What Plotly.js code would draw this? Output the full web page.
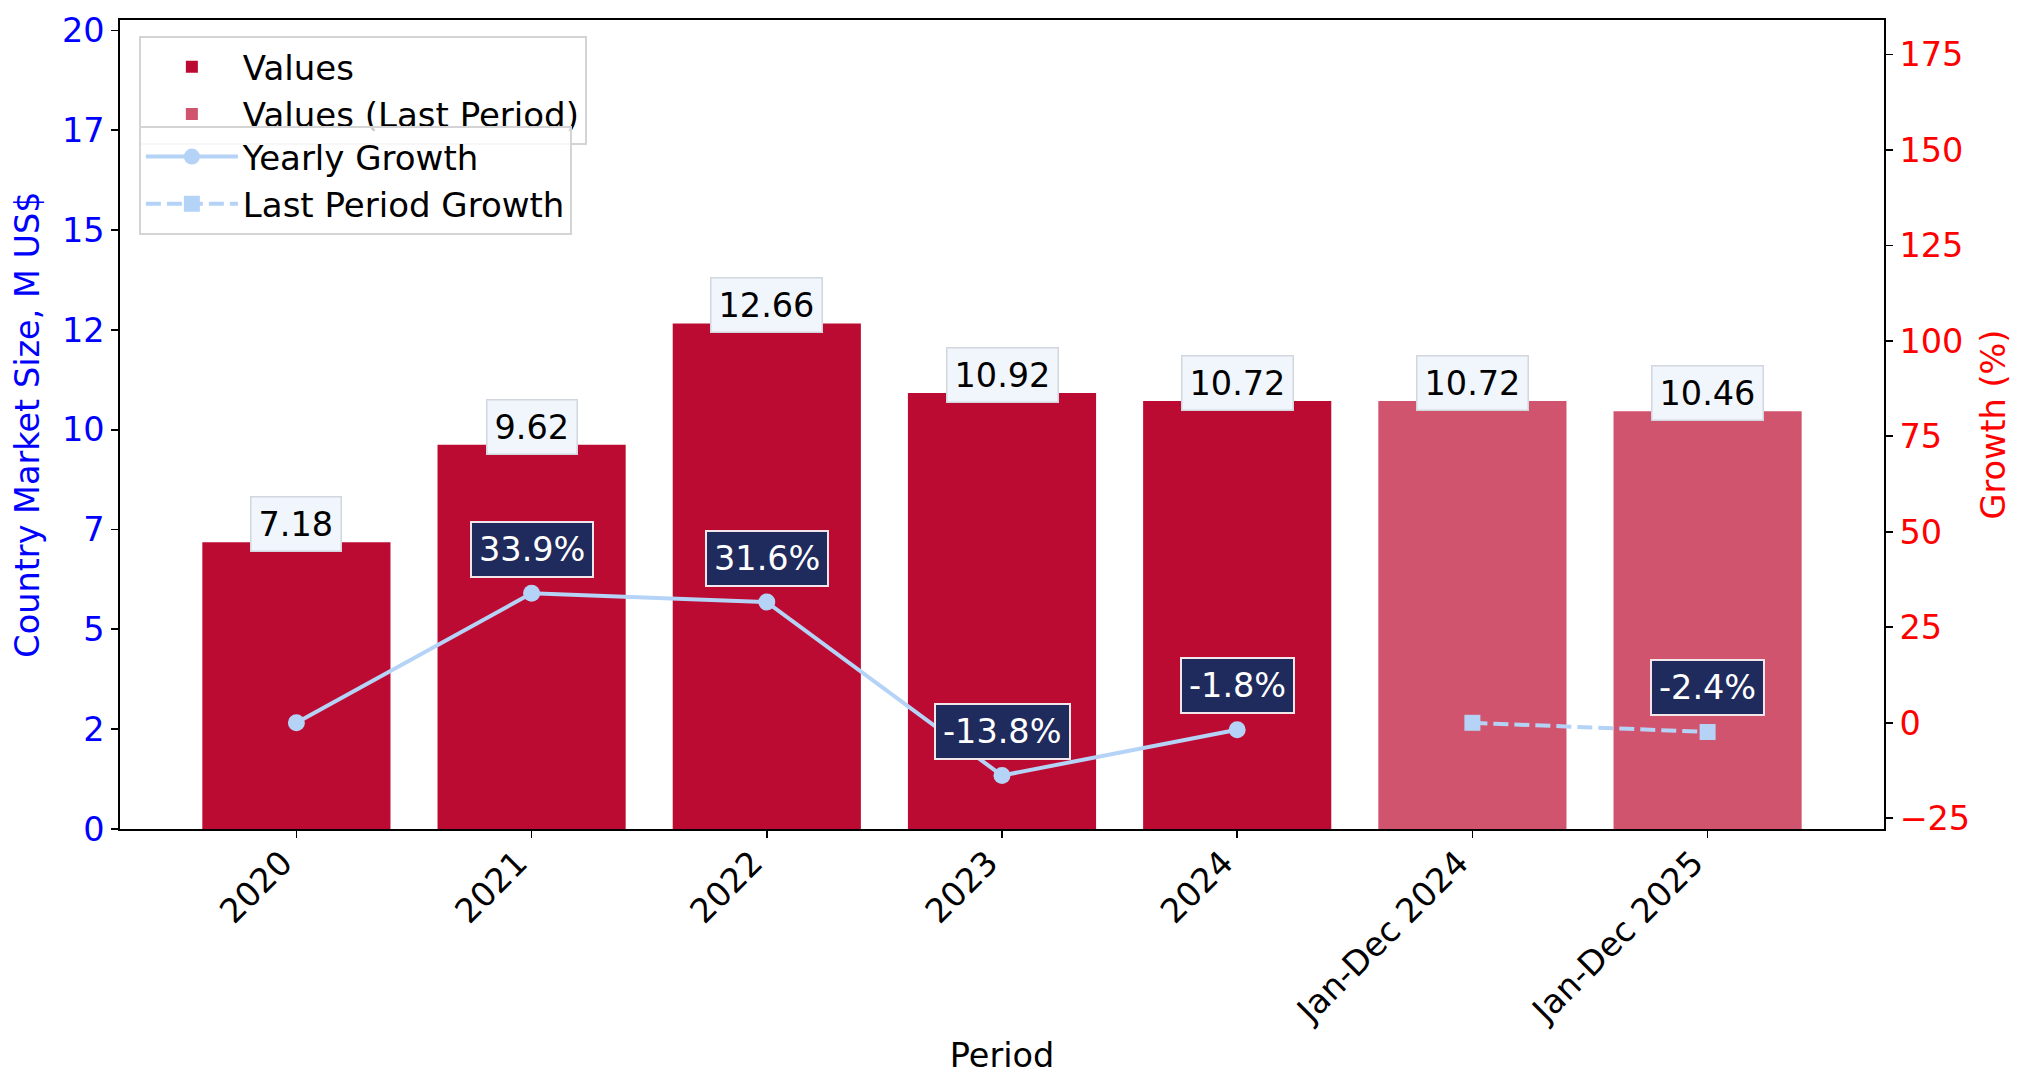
<!DOCTYPE html>
<html>
<head>
<meta charset="utf-8">
<script src="https://cdn.plot.ly/plotly-3.0.1.min.js"></script>
<style>
  html, body { margin: 0; padding: 0; background: #fff; }
  #chart { width: 2032px; height: 1090px; }
</style>
</head>
<body>
<div id="chart"></div>
<script>
// ---- data ----
const periods = ['2020', '2021', '2022', '2023', '2024', 'Jan-Dec 2024', 'Jan-Dec 2025'];
const yearPeriods = ['2020', '2021', '2022', '2023', '2024'];
const yearValues = [7.18, 9.62, 12.66, 10.92, 10.72];
const lastPeriods = ['Jan-Dec 2024', 'Jan-Dec 2025'];
const lastValues = [10.72, 10.46];
const yearlyGrowth = [0, 33.9, 31.6, -13.8, -1.8];
const lastGrowth = [0, -2.4];
const leftTickVals = [0, 2.5, 5, 7.5, 10, 12.5, 15, 17.5, 20];
const leftTickText = ['0', '2', '5', '7', '10', '12', '15', '17', '20'];
const rightTickVals = [-25, 0, 25, 50, 75, 100, 125, 150, 175];

// ---- styles ----
const FONT = 'DejaVu Sans, Verdana, sans-serif';
const FS = 33.5;
const barColor = '#bc0b32';
const lastBarColor = '#d1546f';
const lineColor = '#b5d3f6';

const traces = [
  {
    type: 'bar', name: 'Values', x: yearPeriods, y: yearValues,
    marker: { color: barColor }, width: 0.8, legend: 'legend', yaxis: 'y'
  },
  {
    type: 'bar', name: 'Values (Last Period)', x: lastPeriods, y: lastValues,
    marker: { color: lastBarColor }, width: 0.8, legend: 'legend', yaxis: 'y'
  },
  {
    type: 'scatter', mode: 'lines+markers', name: 'Yearly Growth',
    x: yearPeriods, y: yearlyGrowth, yaxis: 'y2', legend: 'legend2',
    line: { color: lineColor, width: 4 },
    marker: { color: lineColor, size: 17, symbol: 'circle' }
  },
  {
    type: 'scatter', mode: 'lines+markers', name: 'Last Period Growth',
    x: lastPeriods, y: lastGrowth, yaxis: 'y2', legend: 'legend2',
    line: { color: lineColor, width: 4, dash: '15px,6px' },
    marker: { color: lineColor, size: 16, symbol: 'square' }
  }
];

const annotations = [];
function addValueLabels(xs, ys) {
  xs.forEach((x, i) => {
    annotations.push({
      x: periods.indexOf(x), y: ys[i], xref: 'x', yref: 'y', text: ys[i].toFixed(2),
      showarrow: false, yshift: 18,
      font: { family: FONT, size: FS, color: '#000' },
      bgcolor: '#f0f6fc', bordercolor: '#d2d6de', borderwidth: 1.5, borderpad: 7
    });
  });
}
function addGrowthLabels(xs, ys) {
  xs.forEach((x, i) => {
    if (i === 0) return;
    annotations.push({
      x: periods.indexOf(x), y: ys[i], xref: 'x', yref: 'y2', text: ys[i].toFixed(1) + '%',
      showarrow: false, yshift: 44,
      font: { family: FONT, size: FS, color: '#fff' },
      bgcolor: '#1f2b5c', bordercolor: '#f2e6ea', borderwidth: 2, borderpad: 7
    });
  });
}
addValueLabels(yearPeriods, yearValues);
addValueLabels(lastPeriods, lastValues);
addGrowthLabels(yearPeriods, yearlyGrowth);
addGrowthLabels(lastPeriods, lastGrowth);

const layout = {
  width: 2032, height: 1090,
  margin: { l: 120, r: 148, t: 20, b: 261, pad: 0 },
  paper_bgcolor: '#fff', plot_bgcolor: '#fff',
  font: { family: FONT, size: FS, color: '#000' },
  barmode: 'overlay',
  showlegend: true,
  xaxis: {
    type: 'category', categoryorder: 'array', categoryarray: periods,
    range: [-0.75, 6.75],
    tickangle: -45,
    ticklabelshift: -14,
    ticklabelstandoff: -8,
    showline: true, linecolor: '#000', linewidth: 1.7, mirror: true,
    ticks: 'outside', ticklen: 7, tickwidth: 1.7, tickcolor: '#000',
    showgrid: false, zeroline: false,
    tickfont: { family: FONT, size: FS, color: '#000' },
    title: { text: 'Period', font: { family: FONT, size: FS, color: '#000' }, standoff: 14 },
    automargin: false
  },
  yaxis: {
    range: [0, 20.26],
    tickvals: leftTickVals, ticktext: leftTickText,
    showline: true, linecolor: '#000', linewidth: 1.7,
    ticks: 'outside', ticklen: 7, tickwidth: 1.7, tickcolor: '#000',
    showgrid: false, zeroline: false,
    tickfont: { family: FONT, size: FS, color: '#0000ff' },
    title: { text: 'Country Market Size, M US$', font: { family: FONT, size: FS, color: '#0000ff' }, standoff: 12 },
    automargin: false
  },
  yaxis2: {
    overlaying: 'y', side: 'right',
    range: [-27.8, 184],
    tickvals: rightTickVals,
    showline: true, linecolor: '#000', linewidth: 1.7,
    ticks: 'outside', ticklen: 7, tickwidth: 1.7, tickcolor: '#000',
    showgrid: false, zeroline: false,
    tickfont: { family: FONT, size: FS, color: '#ff0000' },
    title: { text: 'Growth (%)', font: { family: FONT, size: FS, color: '#ff0000' }, standoff: 12 },
    automargin: false
  },
  legend: {
    x: 0.0107, y: 0.98, xanchor: 'left', yanchor: 'top',
    bgcolor: 'rgba(255,255,255,0.8)', bordercolor: '#d4d4d4', borderwidth: 2,
    font: { family: FONT, size: 34, color: '#000' },
    itemwidth: 92, traceorder: 'normal'
  },
  legend2: {
    x: 0.0107, y: 0.869, xanchor: 'left', yanchor: 'top',
    bgcolor: 'rgba(255,255,255,0.8)', bordercolor: '#d4d4d4', borderwidth: 2,
    font: { family: FONT, size: 34, color: '#000' },
    itemwidth: 92, traceorder: 'normal'
  },
  annotations: annotations
};

Plotly.newPlot('chart', traces, layout, { displayModeBar: false, staticPlot: true });
</script>
</body>
</html>
